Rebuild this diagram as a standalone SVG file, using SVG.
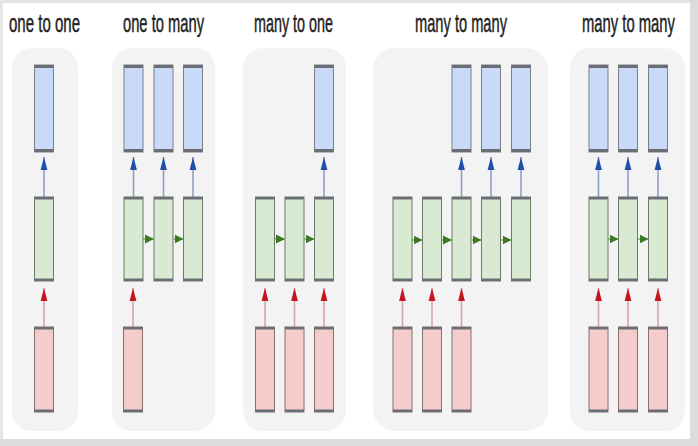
<svg xmlns="http://www.w3.org/2000/svg" width="698" height="446" viewBox="0 0 698 446">
<style>
.title{font-family:"Liberation Sans",Arial,sans-serif;font-size:16px;fill:#232323;stroke:#232323;stroke-width:0.3;text-anchor:middle}
.panel{fill:#f3f3f3}
.out{fill:#c9daf8;stroke:#7a7f88;stroke-width:1}
.hid{fill:#d9ead3;stroke:#6e7a6c;stroke-width:1}
.inp{fill:#f4cccc;stroke:#857070;stroke-width:1}
.band{fill:#6a6e74}
.bl{stroke:#8ea0c4;stroke-width:1.6;fill:none}
.rl{stroke:#d8a4a8;stroke-width:1.6;fill:none}
.gl{stroke:#8fbf80;stroke-width:1.8;fill:none}
</style>
<defs>
<marker id="hb" markerUnits="userSpaceOnUse" markerWidth="14" markerHeight="8" viewBox="0 0 14 8" refX="13" refY="4" orient="auto">
<path d="M0,0.6 L13,4 L0,7.4 Z" fill="#1f4fa8"/>
</marker>
<marker id="hr" markerUnits="userSpaceOnUse" markerWidth="14" markerHeight="8" viewBox="0 0 14 8" refX="13" refY="4" orient="auto">
<path d="M0,0.6 L13,4 L0,7.4 Z" fill="#c4141e"/>
</marker>
<marker id="hg" markerUnits="userSpaceOnUse" markerWidth="10" markerHeight="10" viewBox="0 0 10 10" refX="9" refY="5" orient="auto">
<path d="M0,0.5 L9,5 L0,9.5 Z" fill="#3a7a22"/>
</marker>
<g id="ob"><rect class="out" x="0" y="0" width="19" height="87"/><rect class="band" x="0" y="0" width="19" height="3"/><rect class="band" x="0" y="84" width="19" height="3"/></g>
<g id="hb0"><rect class="hid" x="0" y="0" width="19" height="84"/><rect class="band" x="0" y="0" width="19" height="2.5" fill="#5f6b5d"/><rect class="band" x="0" y="81.5" width="19" height="2.5" fill="#5f6b5d"/></g>
<g id="ib"><rect class="inp" x="0" y="0" width="19" height="85"/><rect class="band" x="0" y="0" width="19" height="2.5" fill="#7a6868"/><rect class="band" x="0" y="82.5" width="19" height="2.5" fill="#7a6868"/></g>
</defs>

<rect x="0" y="0" width="698" height="446" fill="#ffffff"/>
<rect x="0" y="0" width="698" height="3" fill="#e2e2e2"/>
<rect x="0" y="0" width="3" height="446" fill="#e6e6e6"/>
<rect x="690" y="0" width="8" height="446" fill="#dcdcdc"/>
<rect x="0" y="439" width="698" height="7" fill="#dcdcdc"/>

<g id="titles" transform="translate(0,32) scale(1,1.56)">
<text class="title" x="44.5" y="0" textLength="71" lengthAdjust="spacingAndGlyphs">one to one</text>
<text class="title" x="163.5" y="0" textLength="81" lengthAdjust="spacingAndGlyphs">one to many</text>
<text class="title" x="293.5" y="0" textLength="79" lengthAdjust="spacingAndGlyphs">many to one</text>
<text class="title" x="461" y="0" textLength="92" lengthAdjust="spacingAndGlyphs">many to many</text>
<text class="title" x="628.5" y="0" textLength="93" lengthAdjust="spacingAndGlyphs">many to many</text>
</g>

<g id="panels">
<rect class="panel" x="12" y="48" width="66" height="383" rx="20"/>
<rect class="panel" x="112" y="48" width="103" height="383" rx="20"/>
<rect class="panel" x="243" y="48" width="103" height="383" rx="20"/>
<rect class="panel" x="373" y="48" width="175" height="383" rx="22"/>
<rect class="panel" x="570" y="48" width="115" height="383" rx="20"/>
</g>

<g id="connectors">
<line class="bl" x1="44" y1="197" x2="44" y2="157" marker-end="url(#hb)"/>
<line class="rl" x1="44" y1="327" x2="44" y2="288" marker-end="url(#hr)"/>
<line class="bl" x1="133.5" y1="197" x2="133.5" y2="157" marker-end="url(#hb)"/>
<line class="bl" x1="163.5" y1="197" x2="163.5" y2="157" marker-end="url(#hb)"/>
<line class="bl" x1="193" y1="197" x2="193" y2="157" marker-end="url(#hb)"/>
<line class="rl" x1="133" y1="327" x2="133" y2="288" marker-end="url(#hr)"/>
<line class="gl" x1="143" y1="239" x2="154" y2="239" marker-end="url(#hg)"/>
<line class="gl" x1="173" y1="239" x2="183.5" y2="239" marker-end="url(#hg)"/>
<line class="bl" x1="324" y1="197" x2="324" y2="157" marker-end="url(#hb)"/>
<line class="rl" x1="265" y1="327" x2="265" y2="288" marker-end="url(#hr)"/>
<line class="rl" x1="294.5" y1="327" x2="294.5" y2="288" marker-end="url(#hr)"/>
<line class="rl" x1="324" y1="327" x2="324" y2="288" marker-end="url(#hr)"/>
<line class="gl" x1="274.5" y1="239" x2="285" y2="239" marker-end="url(#hg)"/>
<line class="gl" x1="304" y1="239" x2="314.5" y2="239" marker-end="url(#hg)"/>
<line class="bl" x1="461.5" y1="197" x2="461.5" y2="157" marker-end="url(#hb)"/>
<line class="bl" x1="491" y1="197" x2="491" y2="157" marker-end="url(#hb)"/>
<line class="bl" x1="521" y1="197" x2="521" y2="157" marker-end="url(#hb)"/>
<line class="rl" x1="402.5" y1="327" x2="402.5" y2="288" marker-end="url(#hr)"/>
<line class="rl" x1="432" y1="327" x2="432" y2="288" marker-end="url(#hr)"/>
<line class="rl" x1="461.5" y1="327" x2="461.5" y2="288" marker-end="url(#hr)"/>
<line class="gl" x1="412" y1="240" x2="422.5" y2="240" marker-end="url(#hg)"/>
<line class="gl" x1="441.5" y1="240" x2="452" y2="240" marker-end="url(#hg)"/>
<line class="gl" x1="471" y1="240" x2="481.5" y2="240" marker-end="url(#hg)"/>
<line class="gl" x1="500.5" y1="240" x2="511.5" y2="240" marker-end="url(#hg)"/>
<line class="bl" x1="598.5" y1="197" x2="598.5" y2="157" marker-end="url(#hb)"/>
<line class="bl" x1="628" y1="197" x2="628" y2="157" marker-end="url(#hb)"/>
<line class="bl" x1="658" y1="197" x2="658" y2="157" marker-end="url(#hb)"/>
<line class="rl" x1="598.5" y1="327" x2="598.5" y2="288" marker-end="url(#hr)"/>
<line class="rl" x1="628" y1="327" x2="628" y2="288" marker-end="url(#hr)"/>
<line class="rl" x1="658" y1="327" x2="658" y2="288" marker-end="url(#hr)"/>
<line class="gl" x1="608" y1="239" x2="618.5" y2="239" marker-end="url(#hg)"/>
<line class="gl" x1="637.5" y1="239" x2="648.5" y2="239" marker-end="url(#hg)"/>
</g>

<g id="p1-out1"><use href="#ob" x="34.5" y="65"/></g>
<g id="p1-hid1"><use href="#hb0" x="34.5" y="197"/></g>
<g id="p1-in1"><use href="#ib" x="34.5" y="327"/></g>

<g id="p2-out1"><use href="#ob" x="124" y="65"/></g>
<g id="p2-out2"><use href="#ob" x="154" y="65"/></g>
<g id="p2-out3"><use href="#ob" x="183.5" y="65"/></g>
<g id="p2-hid1"><use href="#hb0" x="124" y="197"/></g>
<g id="p2-hid2"><use href="#hb0" x="154" y="197"/></g>
<g id="p2-hid3"><use href="#hb0" x="183.5" y="197"/></g>
<g id="p2-in1"><use href="#ib" x="123.5" y="327"/></g>

<g id="p3-out1"><use href="#ob" x="314.5" y="65"/></g>
<g id="p3-hid1"><use href="#hb0" x="255.5" y="197"/></g>
<g id="p3-hid2"><use href="#hb0" x="285" y="197"/></g>
<g id="p3-hid3"><use href="#hb0" x="314.5" y="197"/></g>
<g id="p3-in1"><use href="#ib" x="255.5" y="327"/></g>
<g id="p3-in2"><use href="#ib" x="285" y="327"/></g>
<g id="p3-in3"><use href="#ib" x="314.5" y="327"/></g>

<g id="p4-out1"><use href="#ob" x="452" y="65"/></g>
<g id="p4-out2"><use href="#ob" x="481.5" y="65"/></g>
<g id="p4-out3"><use href="#ob" x="511.5" y="65"/></g>
<g id="p4-hid1"><use href="#hb0" x="393" y="197"/></g>
<g id="p4-hid2"><use href="#hb0" x="422.5" y="197"/></g>
<g id="p4-hid3"><use href="#hb0" x="452" y="197"/></g>
<g id="p4-hid4"><use href="#hb0" x="481.5" y="197"/></g>
<g id="p4-hid5"><use href="#hb0" x="511.5" y="197"/></g>
<g id="p4-in1"><use href="#ib" x="393" y="327"/></g>
<g id="p4-in2"><use href="#ib" x="422.5" y="327"/></g>
<g id="p4-in3"><use href="#ib" x="452" y="327"/></g>

<g id="p5-out1"><use href="#ob" x="589" y="65"/></g>
<g id="p5-out2"><use href="#ob" x="618.5" y="65"/></g>
<g id="p5-out3"><use href="#ob" x="648.5" y="65"/></g>
<g id="p5-hid1"><use href="#hb0" x="589" y="197"/></g>
<g id="p5-hid2"><use href="#hb0" x="618.5" y="197"/></g>
<g id="p5-hid3"><use href="#hb0" x="648.5" y="197"/></g>
<g id="p5-in1"><use href="#ib" x="589" y="327"/></g>
<g id="p5-in2"><use href="#ib" x="618.5" y="327"/></g>
<g id="p5-in3"><use href="#ib" x="648.5" y="327"/></g>
</svg>
